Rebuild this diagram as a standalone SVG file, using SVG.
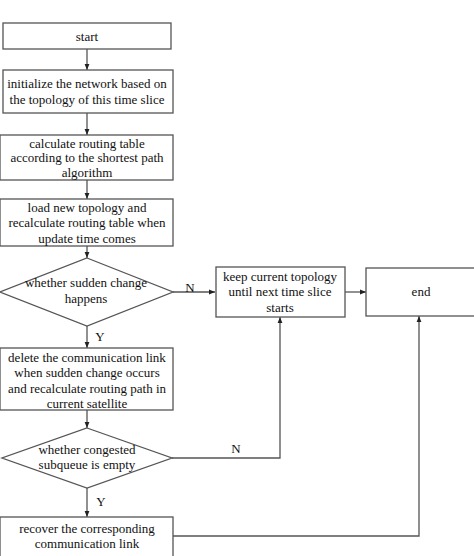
<svg xmlns="http://www.w3.org/2000/svg" width="474" height="556" viewBox="0 0 474 556">
<defs>
<style>
.box{fill:#fff;stroke:#555;stroke-width:1.3}
.ln{fill:none;stroke:#555;stroke-width:1.3}
text{font-family:"Liberation Serif","Times New Roman",serif;font-size:13px;fill:#111;text-anchor:middle}
</style>
<marker id="ar" viewBox="0 0 10 10" refX="10" refY="5" markerWidth="6" markerHeight="6" orient="auto" markerUnits="userSpaceOnUse">
<path d="M0,1 L10,5 L0,9 z" fill="#222"/>
</marker>
</defs>
<rect width="474" height="556" fill="#fff"/>
<g id="connectors">
<line class="ln" x1="87" y1="49" x2="87" y2="70" marker-end="url(#ar)"/>
<line class="ln" x1="87" y1="113" x2="87" y2="135" marker-end="url(#ar)"/>
<line class="ln" x1="87" y1="180" x2="87" y2="199" marker-end="url(#ar)"/>
<line class="ln" x1="87" y1="246" x2="87" y2="258" marker-end="url(#ar)"/>
<line class="ln" x1="173" y1="292" x2="215" y2="292" marker-end="url(#ar)"/>
<line class="ln" x1="345" y1="292" x2="366" y2="292" marker-end="url(#ar)"/>
<line class="ln" x1="87" y1="326" x2="87" y2="348" marker-end="url(#ar)"/>
<line class="ln" x1="87" y1="410" x2="87" y2="428" marker-end="url(#ar)"/>
<polyline class="ln" points="172,458 280,458 280,317" marker-end="url(#ar)"/>
<line class="ln" x1="87" y1="488" x2="87" y2="517" marker-end="url(#ar)"/>
<polyline class="ln" points="173,536 419,536 419,316" marker-end="url(#ar)"/>
<text x="190" y="292">N</text>
<text x="100" y="341">Y</text>
<text x="236" y="453">N</text>
<text x="101" y="506">Y</text>
</g>
<g id="start">
<rect class="box" x="3" y="23" width="168" height="26"/>
<text x="87" y="41">start</text>
</g>
<g id="init">
<rect class="box" x="3" y="70" width="170" height="43"/>
<text x="87" y="88">initialize the network based on</text>
<text x="87" y="104">the topology of this time slice</text>
</g>
<g id="calc">
<rect class="box" x="0" y="135" width="173" height="45"/>
<text x="87" y="148">calculate routing table</text>
<text x="87" y="162">according to the shortest path</text>
<text x="87" y="177">algorithm</text>
</g>
<g id="load">
<rect class="box" x="0" y="199" width="173" height="47"/>
<text x="87" y="212">load new topology and</text>
<text x="87" y="227">recalculate routing table when</text>
<text x="87" y="243">update time comes</text>
</g>
<g id="decision1">
<polygon class="box" points="87,258 173,292 87,326 0,292"/>
<text x="86" y="287">whether sudden change</text>
<text x="86" y="303">happens</text>
</g>
<g id="keep">
<rect class="box" x="216" y="267" width="129" height="50"/>
<text x="280" y="281">keep current topology</text>
<text x="280" y="296">until next time slice</text>
<text x="280" y="312">starts</text>
</g>
<g id="end">
<rect class="box" x="366" y="268" width="112" height="48"/>
<text x="421" y="296">end</text>
</g>
<g id="delete">
<rect class="box" x="0" y="348" width="173" height="62"/>
<text x="87" y="362">delete the communication link</text>
<text x="87" y="377">when sudden change occurs</text>
<text x="87" y="393">and recalculate routing path in</text>
<text x="87" y="408">current satellite</text>
</g>
<g id="decision2">
<polygon class="box" points="87,428 172,458 87,488 2,458"/>
<text x="87" y="454">whether congested</text>
<text x="87" y="469">subqueue is empty</text>
</g>
<g id="recover">
<rect class="box" x="0" y="517" width="173" height="45"/>
<text x="87" y="533">recover the corresponding</text>
<text x="87" y="548">communication link</text>
</g>
</svg>
